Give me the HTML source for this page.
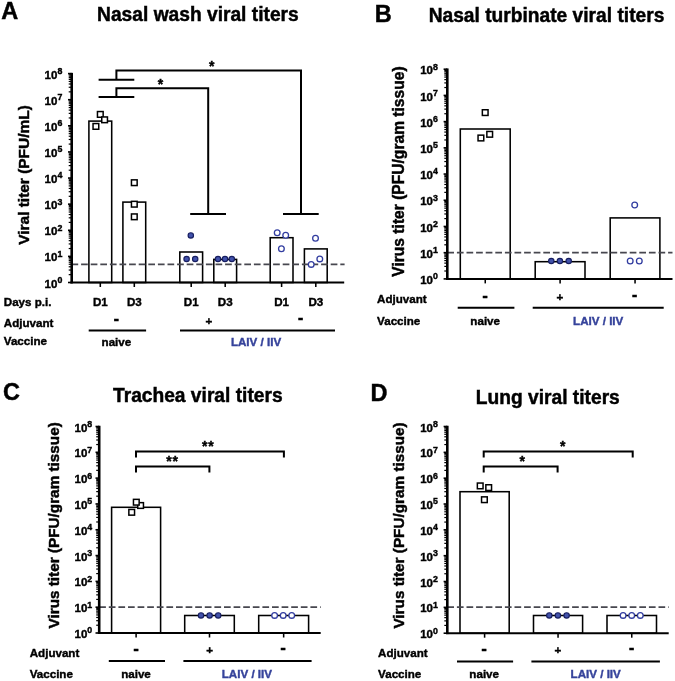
<!DOCTYPE html>
<html lang="en">
<head>
<meta charset="utf-8">
<title>Viral titers figure</title>
<style>
html,body{margin:0;padding:0;background:#fff;}
body{width:675px;height:681px;overflow:hidden;font-family:"Liberation Sans", Arial, Helvetica, sans-serif;}
svg{display:block;}
</style>
</head>
<body>
<svg width="675" height="681" viewBox="0 0 675 681" font-family='&quot;Liberation Sans&quot;, Arial, Helvetica, sans-serif' font-weight="bold">
<rect width="675" height="681" fill="#fff"/>
<text transform="translate(1.30,19.00) scale(1,1.04)" font-size="23.5" text-anchor="start" fill="#000" stroke="#000" stroke-width="0.45" >A</text>
<text transform="translate(197.90,21.00) scale(1,1.04)" font-size="19.2" text-anchor="middle" fill="#000" stroke="#000" stroke-width="0.45" >Nasal wash viral titers</text>
<text transform="translate(28.60,175.00) rotate(-90)" font-size="15.45" text-anchor="middle" stroke="#000" stroke-width="0.45">Viral titer (PFU/mL)</text>
<rect x="88.90" y="121.10" width="22.80" height="161.40" fill="#fff" stroke="#000" stroke-width="1.55"/>
<rect x="122.90" y="202.10" width="22.80" height="80.40" fill="#fff" stroke="#000" stroke-width="1.55"/>
<rect x="179.80" y="252.00" width="22.80" height="30.50" fill="#fff" stroke="#000" stroke-width="1.55"/>
<rect x="213.80" y="259.40" width="22.80" height="23.10" fill="#fff" stroke="#000" stroke-width="1.55"/>
<rect x="270.20" y="237.70" width="22.80" height="44.80" fill="#fff" stroke="#000" stroke-width="1.55"/>
<rect x="304.40" y="248.90" width="22.80" height="33.60" fill="#fff" stroke="#000" stroke-width="1.55"/>
<line x1="71.50" y1="264.40" x2="344.60" y2="264.40" stroke="#47474f" stroke-width="1.75" stroke-dasharray="6.7 2.9"/>
<line x1="70.40" y1="282.50" x2="344.20" y2="282.50" stroke="#000" stroke-width="1.95" />
<line x1="71.70" y1="72.85" x2="71.70" y2="283.40" stroke="#000" stroke-width="2.6" />
<line x1="68.00" y1="282.50" x2="71.70" y2="282.50" stroke="#000" stroke-width="1.6" />
<text transform="translate(62.30,287.60)" font-size="11.5" text-anchor="end" stroke="#000" stroke-width="0.4">10<tspan font-size="8.8" dy="-4.7">0</tspan></text>
<line x1="68.70" y1="274.64" x2="71.70" y2="274.64" stroke="#000" stroke-width="1.2" />
<line x1="68.70" y1="270.04" x2="71.70" y2="270.04" stroke="#000" stroke-width="1.2" />
<line x1="68.70" y1="266.78" x2="71.70" y2="266.78" stroke="#000" stroke-width="1.2" />
<line x1="68.70" y1="264.25" x2="71.70" y2="264.25" stroke="#000" stroke-width="1.2" />
<line x1="68.70" y1="262.18" x2="71.70" y2="262.18" stroke="#000" stroke-width="1.2" />
<line x1="68.70" y1="260.43" x2="71.70" y2="260.43" stroke="#000" stroke-width="1.2" />
<line x1="68.70" y1="258.92" x2="71.70" y2="258.92" stroke="#000" stroke-width="1.2" />
<line x1="68.70" y1="257.58" x2="71.70" y2="257.58" stroke="#000" stroke-width="1.2" />
<line x1="68.00" y1="256.39" x2="71.70" y2="256.39" stroke="#000" stroke-width="1.6" />
<text transform="translate(62.30,261.49)" font-size="11.5" text-anchor="end" stroke="#000" stroke-width="0.4">10<tspan font-size="8.8" dy="-4.7">1</tspan></text>
<line x1="68.70" y1="248.53" x2="71.70" y2="248.53" stroke="#000" stroke-width="1.2" />
<line x1="68.70" y1="243.93" x2="71.70" y2="243.93" stroke="#000" stroke-width="1.2" />
<line x1="68.70" y1="240.67" x2="71.70" y2="240.67" stroke="#000" stroke-width="1.2" />
<line x1="68.70" y1="238.14" x2="71.70" y2="238.14" stroke="#000" stroke-width="1.2" />
<line x1="68.70" y1="236.07" x2="71.70" y2="236.07" stroke="#000" stroke-width="1.2" />
<line x1="68.70" y1="234.32" x2="71.70" y2="234.32" stroke="#000" stroke-width="1.2" />
<line x1="68.70" y1="232.81" x2="71.70" y2="232.81" stroke="#000" stroke-width="1.2" />
<line x1="68.70" y1="231.47" x2="71.70" y2="231.47" stroke="#000" stroke-width="1.2" />
<line x1="68.00" y1="230.28" x2="71.70" y2="230.28" stroke="#000" stroke-width="1.6" />
<text transform="translate(62.30,235.38)" font-size="11.5" text-anchor="end" stroke="#000" stroke-width="0.4">10<tspan font-size="8.8" dy="-4.7">2</tspan></text>
<line x1="68.70" y1="222.41" x2="71.70" y2="222.41" stroke="#000" stroke-width="1.2" />
<line x1="68.70" y1="217.82" x2="71.70" y2="217.82" stroke="#000" stroke-width="1.2" />
<line x1="68.70" y1="214.55" x2="71.70" y2="214.55" stroke="#000" stroke-width="1.2" />
<line x1="68.70" y1="212.02" x2="71.70" y2="212.02" stroke="#000" stroke-width="1.2" />
<line x1="68.70" y1="209.96" x2="71.70" y2="209.96" stroke="#000" stroke-width="1.2" />
<line x1="68.70" y1="208.21" x2="71.70" y2="208.21" stroke="#000" stroke-width="1.2" />
<line x1="68.70" y1="206.69" x2="71.70" y2="206.69" stroke="#000" stroke-width="1.2" />
<line x1="68.70" y1="205.36" x2="71.70" y2="205.36" stroke="#000" stroke-width="1.2" />
<line x1="68.00" y1="204.16" x2="71.70" y2="204.16" stroke="#000" stroke-width="1.6" />
<text transform="translate(62.30,209.26)" font-size="11.5" text-anchor="end" stroke="#000" stroke-width="0.4">10<tspan font-size="8.8" dy="-4.7">3</tspan></text>
<line x1="68.70" y1="196.30" x2="71.70" y2="196.30" stroke="#000" stroke-width="1.2" />
<line x1="68.70" y1="191.70" x2="71.70" y2="191.70" stroke="#000" stroke-width="1.2" />
<line x1="68.70" y1="188.44" x2="71.70" y2="188.44" stroke="#000" stroke-width="1.2" />
<line x1="68.70" y1="185.91" x2="71.70" y2="185.91" stroke="#000" stroke-width="1.2" />
<line x1="68.70" y1="183.84" x2="71.70" y2="183.84" stroke="#000" stroke-width="1.2" />
<line x1="68.70" y1="182.09" x2="71.70" y2="182.09" stroke="#000" stroke-width="1.2" />
<line x1="68.70" y1="180.58" x2="71.70" y2="180.58" stroke="#000" stroke-width="1.2" />
<line x1="68.70" y1="179.24" x2="71.70" y2="179.24" stroke="#000" stroke-width="1.2" />
<line x1="68.00" y1="178.05" x2="71.70" y2="178.05" stroke="#000" stroke-width="1.6" />
<text transform="translate(62.30,183.15)" font-size="11.5" text-anchor="end" stroke="#000" stroke-width="0.4">10<tspan font-size="8.8" dy="-4.7">4</tspan></text>
<line x1="68.70" y1="170.19" x2="71.70" y2="170.19" stroke="#000" stroke-width="1.2" />
<line x1="68.70" y1="165.59" x2="71.70" y2="165.59" stroke="#000" stroke-width="1.2" />
<line x1="68.70" y1="162.33" x2="71.70" y2="162.33" stroke="#000" stroke-width="1.2" />
<line x1="68.70" y1="159.80" x2="71.70" y2="159.80" stroke="#000" stroke-width="1.2" />
<line x1="68.70" y1="157.73" x2="71.70" y2="157.73" stroke="#000" stroke-width="1.2" />
<line x1="68.70" y1="155.98" x2="71.70" y2="155.98" stroke="#000" stroke-width="1.2" />
<line x1="68.70" y1="154.47" x2="71.70" y2="154.47" stroke="#000" stroke-width="1.2" />
<line x1="68.70" y1="153.13" x2="71.70" y2="153.13" stroke="#000" stroke-width="1.2" />
<line x1="68.00" y1="151.94" x2="71.70" y2="151.94" stroke="#000" stroke-width="1.6" />
<text transform="translate(62.30,157.04)" font-size="11.5" text-anchor="end" stroke="#000" stroke-width="0.4">10<tspan font-size="8.8" dy="-4.7">5</tspan></text>
<line x1="68.70" y1="144.08" x2="71.70" y2="144.08" stroke="#000" stroke-width="1.2" />
<line x1="68.70" y1="139.48" x2="71.70" y2="139.48" stroke="#000" stroke-width="1.2" />
<line x1="68.70" y1="136.22" x2="71.70" y2="136.22" stroke="#000" stroke-width="1.2" />
<line x1="68.70" y1="133.69" x2="71.70" y2="133.69" stroke="#000" stroke-width="1.2" />
<line x1="68.70" y1="131.62" x2="71.70" y2="131.62" stroke="#000" stroke-width="1.2" />
<line x1="68.70" y1="129.87" x2="71.70" y2="129.87" stroke="#000" stroke-width="1.2" />
<line x1="68.70" y1="128.36" x2="71.70" y2="128.36" stroke="#000" stroke-width="1.2" />
<line x1="68.70" y1="127.02" x2="71.70" y2="127.02" stroke="#000" stroke-width="1.2" />
<line x1="68.00" y1="125.82" x2="71.70" y2="125.82" stroke="#000" stroke-width="1.6" />
<text transform="translate(62.30,130.92)" font-size="11.5" text-anchor="end" stroke="#000" stroke-width="0.4">10<tspan font-size="8.8" dy="-4.7">6</tspan></text>
<line x1="68.70" y1="117.96" x2="71.70" y2="117.96" stroke="#000" stroke-width="1.2" />
<line x1="68.70" y1="113.37" x2="71.70" y2="113.37" stroke="#000" stroke-width="1.2" />
<line x1="68.70" y1="110.10" x2="71.70" y2="110.10" stroke="#000" stroke-width="1.2" />
<line x1="68.70" y1="107.57" x2="71.70" y2="107.57" stroke="#000" stroke-width="1.2" />
<line x1="68.70" y1="105.51" x2="71.70" y2="105.51" stroke="#000" stroke-width="1.2" />
<line x1="68.70" y1="103.76" x2="71.70" y2="103.76" stroke="#000" stroke-width="1.2" />
<line x1="68.70" y1="102.24" x2="71.70" y2="102.24" stroke="#000" stroke-width="1.2" />
<line x1="68.70" y1="100.91" x2="71.70" y2="100.91" stroke="#000" stroke-width="1.2" />
<line x1="68.00" y1="99.71" x2="71.70" y2="99.71" stroke="#000" stroke-width="1.6" />
<text transform="translate(62.30,104.81)" font-size="11.5" text-anchor="end" stroke="#000" stroke-width="0.4">10<tspan font-size="8.8" dy="-4.7">7</tspan></text>
<line x1="68.70" y1="91.85" x2="71.70" y2="91.85" stroke="#000" stroke-width="1.2" />
<line x1="68.70" y1="87.25" x2="71.70" y2="87.25" stroke="#000" stroke-width="1.2" />
<line x1="68.70" y1="83.99" x2="71.70" y2="83.99" stroke="#000" stroke-width="1.2" />
<line x1="68.70" y1="81.46" x2="71.70" y2="81.46" stroke="#000" stroke-width="1.2" />
<line x1="68.70" y1="79.39" x2="71.70" y2="79.39" stroke="#000" stroke-width="1.2" />
<line x1="68.70" y1="77.64" x2="71.70" y2="77.64" stroke="#000" stroke-width="1.2" />
<line x1="68.70" y1="76.13" x2="71.70" y2="76.13" stroke="#000" stroke-width="1.2" />
<line x1="68.70" y1="74.79" x2="71.70" y2="74.79" stroke="#000" stroke-width="1.2" />
<line x1="68.00" y1="73.60" x2="71.70" y2="73.60" stroke="#000" stroke-width="1.6" />
<text transform="translate(62.30,78.70)" font-size="11.5" text-anchor="end" stroke="#000" stroke-width="0.4">10<tspan font-size="8.8" dy="-4.7">8</tspan></text>
<line x1="100.30" y1="282.50" x2="100.30" y2="287.00" stroke="#000" stroke-width="1.55" />
<line x1="134.30" y1="282.50" x2="134.30" y2="287.00" stroke="#000" stroke-width="1.55" />
<line x1="191.20" y1="282.50" x2="191.20" y2="287.00" stroke="#000" stroke-width="1.55" />
<line x1="225.20" y1="282.50" x2="225.20" y2="287.00" stroke="#000" stroke-width="1.55" />
<line x1="281.60" y1="282.50" x2="281.60" y2="287.00" stroke="#000" stroke-width="1.55" />
<line x1="315.80" y1="282.50" x2="315.80" y2="287.00" stroke="#000" stroke-width="1.55" />
<rect x="97.45" y="111.55" width="5.7" height="5.7" fill="#fff" stroke="#000" stroke-width="1.5"/>
<rect x="101.75" y="116.95" width="5.7" height="5.7" fill="#fff" stroke="#000" stroke-width="1.5"/>
<rect x="93.05" y="123.55" width="5.7" height="5.7" fill="#fff" stroke="#000" stroke-width="1.5"/>
<rect x="131.45" y="179.85" width="5.7" height="5.7" fill="#fff" stroke="#000" stroke-width="1.5"/>
<rect x="131.45" y="201.35" width="5.7" height="5.7" fill="#fff" stroke="#000" stroke-width="1.5"/>
<rect x="131.45" y="213.95" width="5.7" height="5.7" fill="#fff" stroke="#000" stroke-width="1.5"/>
<circle cx="190.80" cy="235.40" r="2.7" fill="#4252ab" stroke="#171e60" stroke-width="1.15"/>
<circle cx="186.60" cy="259.00" r="2.7" fill="#4252ab" stroke="#171e60" stroke-width="1.15"/>
<circle cx="195.20" cy="259.00" r="2.7" fill="#4252ab" stroke="#171e60" stroke-width="1.15"/>
<circle cx="218.00" cy="259.00" r="2.7" fill="#4252ab" stroke="#171e60" stroke-width="1.15"/>
<circle cx="225.00" cy="259.00" r="2.7" fill="#4252ab" stroke="#171e60" stroke-width="1.15"/>
<circle cx="231.80" cy="259.00" r="2.7" fill="#4252ab" stroke="#171e60" stroke-width="1.15"/>
<circle cx="277.20" cy="232.80" r="2.85" fill="#fff" stroke="#323da0" stroke-width="1.3"/>
<circle cx="285.70" cy="235.20" r="2.85" fill="#fff" stroke="#323da0" stroke-width="1.3"/>
<circle cx="281.40" cy="248.70" r="2.85" fill="#fff" stroke="#323da0" stroke-width="1.3"/>
<circle cx="315.50" cy="238.30" r="2.85" fill="#fff" stroke="#323da0" stroke-width="1.3"/>
<circle cx="319.80" cy="258.90" r="2.85" fill="#fff" stroke="#323da0" stroke-width="1.3"/>
<circle cx="311.20" cy="264.40" r="2.85" fill="#fff" stroke="#323da0" stroke-width="1.3"/>
<path d="M98.6 79.7 H134.3 M116.4 79.7 V70.4 H301 V214.0 M283 214.0 H318.7" fill="none" stroke="#000" stroke-width="2.0" stroke-linejoin="miter" stroke-linecap="butt"/>
<path d="M98.6 97.1 H134.3 M116.4 97.1 V88.2 H208.2 V214.0 M190.2 214.0 H226" fill="none" stroke="#000" stroke-width="2.0" stroke-linejoin="miter" stroke-linecap="butt"/>
<text transform="translate(211.60,71.10) scale(1,1.0)" font-size="14" text-anchor="middle" fill="#000" stroke="#000" stroke-width="0.4" >*</text>
<text transform="translate(160.40,88.70) scale(1,1.0)" font-size="14" text-anchor="middle" fill="#000" stroke="#000" stroke-width="0.4" >*</text>
<text transform="translate(3.80,306.20) scale(1,1.0)" font-size="11.6" text-anchor="start" fill="#000" stroke="#000" stroke-width="0.4" >Days p.i.</text>
<text transform="translate(3.80,326.80) scale(1,1.0)" font-size="11.6" text-anchor="start" fill="#000" stroke="#000" stroke-width="0.4" >Adjuvant</text>
<text transform="translate(3.80,345.30) scale(1,1.0)" font-size="11.6" text-anchor="start" fill="#000" stroke="#000" stroke-width="0.4" >Vaccine</text>
<text transform="translate(100.30,306.40) scale(1,1.0)" font-size="11.6" text-anchor="middle" fill="#000" stroke="#000" stroke-width="0.4" >D1</text>
<text transform="translate(134.30,306.40) scale(1,1.0)" font-size="11.6" text-anchor="middle" fill="#000" stroke="#000" stroke-width="0.4" >D3</text>
<text transform="translate(191.20,306.40) scale(1,1.0)" font-size="11.6" text-anchor="middle" fill="#000" stroke="#000" stroke-width="0.4" >D1</text>
<text transform="translate(225.20,306.40) scale(1,1.0)" font-size="11.6" text-anchor="middle" fill="#000" stroke="#000" stroke-width="0.4" >D3</text>
<text transform="translate(281.60,306.40) scale(1,1.0)" font-size="11.6" text-anchor="middle" fill="#000" stroke="#000" stroke-width="0.4" >D1</text>
<text transform="translate(315.80,306.40) scale(1,1.0)" font-size="11.6" text-anchor="middle" fill="#000" stroke="#000" stroke-width="0.4" >D3</text>
<text transform="translate(116.40,323.90)" font-size="17" text-anchor="middle" stroke="#000" stroke-width="0.3">-</text>
<text transform="translate(209.00,325.10) scale(1,1.0)" font-size="11.6" text-anchor="middle" fill="#000" stroke="#000" stroke-width="0.4" >+</text>
<text transform="translate(300.50,322.90)" font-size="17" text-anchor="middle" stroke="#000" stroke-width="0.3">-</text>
<line x1="88.70" y1="330.40" x2="146.10" y2="330.40" stroke="#000" stroke-width="2.0" />
<line x1="180.00" y1="330.40" x2="335.00" y2="330.40" stroke="#000" stroke-width="2.0" />
<text transform="translate(116.40,345.60) scale(1,1.0)" font-size="11.6" text-anchor="middle" fill="#000" stroke="#000" stroke-width="0.4" >naive</text>
<text transform="translate(256.00,346.10) scale(1,1.0)" font-size="11.6" text-anchor="middle" fill="#36439b" stroke="#36439b" stroke-width="0.4" >LAIV / IIV</text>
<text transform="translate(374.70,22.10) scale(1,1.04)" font-size="23.5" text-anchor="start" fill="#000" stroke="#000" stroke-width="0.45" >B</text>
<text transform="translate(546.50,22.20) scale(1,1.04)" font-size="19.2" text-anchor="middle" fill="#000" stroke="#000" stroke-width="0.45" >Nasal turbinate viral titers</text>
<text transform="translate(403.80,171.55) rotate(-90)" font-size="15.6" text-anchor="middle" stroke="#000" stroke-width="0.45">Virus titer (PFU/gram tissue)</text>
<rect x="460.30" y="129.00" width="49.90" height="149.90" fill="#fff" stroke="#000" stroke-width="1.55"/>
<rect x="535.20" y="261.70" width="49.80" height="17.20" fill="#fff" stroke="#000" stroke-width="1.55"/>
<rect x="610.20" y="217.90" width="49.70" height="61.00" fill="#fff" stroke="#000" stroke-width="1.55"/>
<line x1="447.30" y1="252.60" x2="672.50" y2="252.60" stroke="#47474f" stroke-width="1.75" stroke-dasharray="6.7 2.9"/>
<line x1="446.00" y1="278.90" x2="672.50" y2="278.90" stroke="#000" stroke-width="1.95" />
<line x1="447.30" y1="68.45" x2="447.30" y2="279.80" stroke="#000" stroke-width="2.6" />
<line x1="443.60" y1="278.90" x2="447.30" y2="278.90" stroke="#000" stroke-width="1.6" />
<text transform="translate(437.90,284.00)" font-size="11.5" text-anchor="end" stroke="#000" stroke-width="0.4">10<tspan font-size="8.8" dy="-4.7">0</tspan></text>
<line x1="444.30" y1="271.01" x2="447.30" y2="271.01" stroke="#000" stroke-width="1.2" />
<line x1="444.30" y1="266.39" x2="447.30" y2="266.39" stroke="#000" stroke-width="1.2" />
<line x1="444.30" y1="263.12" x2="447.30" y2="263.12" stroke="#000" stroke-width="1.2" />
<line x1="444.30" y1="260.58" x2="447.30" y2="260.58" stroke="#000" stroke-width="1.2" />
<line x1="444.30" y1="258.50" x2="447.30" y2="258.50" stroke="#000" stroke-width="1.2" />
<line x1="444.30" y1="256.75" x2="447.30" y2="256.75" stroke="#000" stroke-width="1.2" />
<line x1="444.30" y1="255.23" x2="447.30" y2="255.23" stroke="#000" stroke-width="1.2" />
<line x1="444.30" y1="253.89" x2="447.30" y2="253.89" stroke="#000" stroke-width="1.2" />
<line x1="443.60" y1="252.69" x2="447.30" y2="252.69" stroke="#000" stroke-width="1.6" />
<text transform="translate(437.90,257.79)" font-size="11.5" text-anchor="end" stroke="#000" stroke-width="0.4">10<tspan font-size="8.8" dy="-4.7">1</tspan></text>
<line x1="444.30" y1="244.80" x2="447.30" y2="244.80" stroke="#000" stroke-width="1.2" />
<line x1="444.30" y1="240.18" x2="447.30" y2="240.18" stroke="#000" stroke-width="1.2" />
<line x1="444.30" y1="236.91" x2="447.30" y2="236.91" stroke="#000" stroke-width="1.2" />
<line x1="444.30" y1="234.37" x2="447.30" y2="234.37" stroke="#000" stroke-width="1.2" />
<line x1="444.30" y1="232.29" x2="447.30" y2="232.29" stroke="#000" stroke-width="1.2" />
<line x1="444.30" y1="230.54" x2="447.30" y2="230.54" stroke="#000" stroke-width="1.2" />
<line x1="444.30" y1="229.02" x2="447.30" y2="229.02" stroke="#000" stroke-width="1.2" />
<line x1="444.30" y1="227.67" x2="447.30" y2="227.67" stroke="#000" stroke-width="1.2" />
<line x1="443.60" y1="226.47" x2="447.30" y2="226.47" stroke="#000" stroke-width="1.6" />
<text transform="translate(437.90,231.57)" font-size="11.5" text-anchor="end" stroke="#000" stroke-width="0.4">10<tspan font-size="8.8" dy="-4.7">2</tspan></text>
<line x1="444.30" y1="218.58" x2="447.30" y2="218.58" stroke="#000" stroke-width="1.2" />
<line x1="444.30" y1="213.97" x2="447.30" y2="213.97" stroke="#000" stroke-width="1.2" />
<line x1="444.30" y1="210.69" x2="447.30" y2="210.69" stroke="#000" stroke-width="1.2" />
<line x1="444.30" y1="208.15" x2="447.30" y2="208.15" stroke="#000" stroke-width="1.2" />
<line x1="444.30" y1="206.08" x2="447.30" y2="206.08" stroke="#000" stroke-width="1.2" />
<line x1="444.30" y1="204.32" x2="447.30" y2="204.32" stroke="#000" stroke-width="1.2" />
<line x1="444.30" y1="202.80" x2="447.30" y2="202.80" stroke="#000" stroke-width="1.2" />
<line x1="444.30" y1="201.46" x2="447.30" y2="201.46" stroke="#000" stroke-width="1.2" />
<line x1="443.60" y1="200.26" x2="447.30" y2="200.26" stroke="#000" stroke-width="1.6" />
<text transform="translate(437.90,205.36)" font-size="11.5" text-anchor="end" stroke="#000" stroke-width="0.4">10<tspan font-size="8.8" dy="-4.7">3</tspan></text>
<line x1="444.30" y1="192.37" x2="447.30" y2="192.37" stroke="#000" stroke-width="1.2" />
<line x1="444.30" y1="187.76" x2="447.30" y2="187.76" stroke="#000" stroke-width="1.2" />
<line x1="444.30" y1="184.48" x2="447.30" y2="184.48" stroke="#000" stroke-width="1.2" />
<line x1="444.30" y1="181.94" x2="447.30" y2="181.94" stroke="#000" stroke-width="1.2" />
<line x1="444.30" y1="179.87" x2="447.30" y2="179.87" stroke="#000" stroke-width="1.2" />
<line x1="444.30" y1="178.11" x2="447.30" y2="178.11" stroke="#000" stroke-width="1.2" />
<line x1="444.30" y1="176.59" x2="447.30" y2="176.59" stroke="#000" stroke-width="1.2" />
<line x1="444.30" y1="175.25" x2="447.30" y2="175.25" stroke="#000" stroke-width="1.2" />
<line x1="443.60" y1="174.05" x2="447.30" y2="174.05" stroke="#000" stroke-width="1.6" />
<text transform="translate(437.90,179.15)" font-size="11.5" text-anchor="end" stroke="#000" stroke-width="0.4">10<tspan font-size="8.8" dy="-4.7">4</tspan></text>
<line x1="444.30" y1="166.16" x2="447.30" y2="166.16" stroke="#000" stroke-width="1.2" />
<line x1="444.30" y1="161.54" x2="447.30" y2="161.54" stroke="#000" stroke-width="1.2" />
<line x1="444.30" y1="158.27" x2="447.30" y2="158.27" stroke="#000" stroke-width="1.2" />
<line x1="444.30" y1="155.73" x2="447.30" y2="155.73" stroke="#000" stroke-width="1.2" />
<line x1="444.30" y1="153.65" x2="447.30" y2="153.65" stroke="#000" stroke-width="1.2" />
<line x1="444.30" y1="151.90" x2="447.30" y2="151.90" stroke="#000" stroke-width="1.2" />
<line x1="444.30" y1="150.38" x2="447.30" y2="150.38" stroke="#000" stroke-width="1.2" />
<line x1="444.30" y1="149.04" x2="447.30" y2="149.04" stroke="#000" stroke-width="1.2" />
<line x1="443.60" y1="147.84" x2="447.30" y2="147.84" stroke="#000" stroke-width="1.6" />
<text transform="translate(437.90,152.94)" font-size="11.5" text-anchor="end" stroke="#000" stroke-width="0.4">10<tspan font-size="8.8" dy="-4.7">5</tspan></text>
<line x1="444.30" y1="139.95" x2="447.30" y2="139.95" stroke="#000" stroke-width="1.2" />
<line x1="444.30" y1="135.33" x2="447.30" y2="135.33" stroke="#000" stroke-width="1.2" />
<line x1="444.30" y1="132.06" x2="447.30" y2="132.06" stroke="#000" stroke-width="1.2" />
<line x1="444.30" y1="129.52" x2="447.30" y2="129.52" stroke="#000" stroke-width="1.2" />
<line x1="444.30" y1="127.44" x2="447.30" y2="127.44" stroke="#000" stroke-width="1.2" />
<line x1="444.30" y1="125.69" x2="447.30" y2="125.69" stroke="#000" stroke-width="1.2" />
<line x1="444.30" y1="124.17" x2="447.30" y2="124.17" stroke="#000" stroke-width="1.2" />
<line x1="444.30" y1="122.82" x2="447.30" y2="122.82" stroke="#000" stroke-width="1.2" />
<line x1="443.60" y1="121.62" x2="447.30" y2="121.62" stroke="#000" stroke-width="1.6" />
<text transform="translate(437.90,126.72)" font-size="11.5" text-anchor="end" stroke="#000" stroke-width="0.4">10<tspan font-size="8.8" dy="-4.7">6</tspan></text>
<line x1="444.30" y1="113.73" x2="447.30" y2="113.73" stroke="#000" stroke-width="1.2" />
<line x1="444.30" y1="109.12" x2="447.30" y2="109.12" stroke="#000" stroke-width="1.2" />
<line x1="444.30" y1="105.84" x2="447.30" y2="105.84" stroke="#000" stroke-width="1.2" />
<line x1="444.30" y1="103.30" x2="447.30" y2="103.30" stroke="#000" stroke-width="1.2" />
<line x1="444.30" y1="101.23" x2="447.30" y2="101.23" stroke="#000" stroke-width="1.2" />
<line x1="444.30" y1="99.47" x2="447.30" y2="99.47" stroke="#000" stroke-width="1.2" />
<line x1="444.30" y1="97.95" x2="447.30" y2="97.95" stroke="#000" stroke-width="1.2" />
<line x1="444.30" y1="96.61" x2="447.30" y2="96.61" stroke="#000" stroke-width="1.2" />
<line x1="443.60" y1="95.41" x2="447.30" y2="95.41" stroke="#000" stroke-width="1.6" />
<text transform="translate(437.90,100.51)" font-size="11.5" text-anchor="end" stroke="#000" stroke-width="0.4">10<tspan font-size="8.8" dy="-4.7">7</tspan></text>
<line x1="444.30" y1="87.52" x2="447.30" y2="87.52" stroke="#000" stroke-width="1.2" />
<line x1="444.30" y1="82.91" x2="447.30" y2="82.91" stroke="#000" stroke-width="1.2" />
<line x1="444.30" y1="79.63" x2="447.30" y2="79.63" stroke="#000" stroke-width="1.2" />
<line x1="444.30" y1="77.09" x2="447.30" y2="77.09" stroke="#000" stroke-width="1.2" />
<line x1="444.30" y1="75.02" x2="447.30" y2="75.02" stroke="#000" stroke-width="1.2" />
<line x1="444.30" y1="73.26" x2="447.30" y2="73.26" stroke="#000" stroke-width="1.2" />
<line x1="444.30" y1="71.74" x2="447.30" y2="71.74" stroke="#000" stroke-width="1.2" />
<line x1="444.30" y1="70.40" x2="447.30" y2="70.40" stroke="#000" stroke-width="1.2" />
<line x1="443.60" y1="69.20" x2="447.30" y2="69.20" stroke="#000" stroke-width="1.6" />
<text transform="translate(437.90,74.30)" font-size="11.5" text-anchor="end" stroke="#000" stroke-width="0.4">10<tspan font-size="8.8" dy="-4.7">8</tspan></text>
<line x1="485.25" y1="278.90" x2="485.25" y2="283.40" stroke="#000" stroke-width="1.55" />
<line x1="560.10" y1="278.90" x2="560.10" y2="283.40" stroke="#000" stroke-width="1.55" />
<line x1="635.05" y1="278.90" x2="635.05" y2="283.40" stroke="#000" stroke-width="1.55" />
<rect x="482.35" y="109.75" width="5.7" height="5.7" fill="#fff" stroke="#000" stroke-width="1.5"/>
<rect x="486.85" y="131.45" width="5.7" height="5.7" fill="#fff" stroke="#000" stroke-width="1.5"/>
<rect x="478.05" y="135.15" width="5.7" height="5.7" fill="#fff" stroke="#000" stroke-width="1.5"/>
<circle cx="551.30" cy="261.00" r="2.7" fill="#4252ab" stroke="#171e60" stroke-width="1.15"/>
<circle cx="559.90" cy="261.00" r="2.7" fill="#4252ab" stroke="#171e60" stroke-width="1.15"/>
<circle cx="568.70" cy="261.00" r="2.7" fill="#4252ab" stroke="#171e60" stroke-width="1.15"/>
<circle cx="634.70" cy="205.00" r="2.85" fill="#fff" stroke="#323da0" stroke-width="1.3"/>
<circle cx="630.20" cy="261.00" r="2.85" fill="#fff" stroke="#323da0" stroke-width="1.3"/>
<circle cx="639.30" cy="261.00" r="2.85" fill="#fff" stroke="#323da0" stroke-width="1.3"/>
<text transform="translate(377.10,303.00) scale(1,1.0)" font-size="11.6" text-anchor="start" fill="#000" stroke="#000" stroke-width="0.4" >Adjuvant</text>
<text transform="translate(377.10,325.10) scale(1,1.0)" font-size="11.6" text-anchor="start" fill="#000" stroke="#000" stroke-width="0.4" >Vaccine</text>
<line x1="457.70" y1="307.70" x2="514.40" y2="307.70" stroke="#000" stroke-width="2.0" />
<line x1="532.70" y1="307.70" x2="663.70" y2="307.70" stroke="#000" stroke-width="2.0" />
<text transform="translate(485.20,300.90)" font-size="17" text-anchor="middle" stroke="#000" stroke-width="0.3">-</text>
<text transform="translate(559.90,301.10) scale(1,1.0)" font-size="11.6" text-anchor="middle" fill="#000" stroke="#000" stroke-width="0.4" >+</text>
<text transform="translate(634.70,299.80)" font-size="17" text-anchor="middle" stroke="#000" stroke-width="0.3">-</text>
<text transform="translate(485.20,325.10) scale(1,1.0)" font-size="11.6" text-anchor="middle" fill="#000" stroke="#000" stroke-width="0.4" >naive</text>
<text transform="translate(598.20,325.10) scale(1,1.0)" font-size="11.6" text-anchor="middle" fill="#36439b" stroke="#36439b" stroke-width="0.4" >LAIV / IIV</text>
<text transform="translate(3.00,400.00) scale(1,1.04)" font-size="23.5" text-anchor="start" fill="#000" stroke="#000" stroke-width="0.45" >C</text>
<text transform="translate(197.80,402.40) scale(1,1.04)" font-size="19.2" text-anchor="middle" fill="#000" stroke="#000" stroke-width="0.45" >Trachea viral titers</text>
<text transform="translate(58.90,525.35) rotate(-90)" font-size="15.3" text-anchor="middle" stroke="#000" stroke-width="0.45">Virus titer (PFU/gram tissue)</text>
<rect x="111.60" y="507.30" width="49.00" height="125.70" fill="#fff" stroke="#000" stroke-width="1.55"/>
<rect x="184.70" y="615.50" width="49.60" height="17.50" fill="#fff" stroke="#000" stroke-width="1.55"/>
<rect x="258.70" y="615.50" width="49.90" height="17.50" fill="#fff" stroke="#000" stroke-width="1.55"/>
<line x1="99.20" y1="607.00" x2="320.70" y2="607.00" stroke="#47474f" stroke-width="1.75" stroke-dasharray="6.7 2.9"/>
<line x1="97.90" y1="633.00" x2="320.70" y2="633.00" stroke="#000" stroke-width="1.95" />
<line x1="99.20" y1="425.75" x2="99.20" y2="633.90" stroke="#000" stroke-width="2.6" />
<line x1="95.50" y1="633.00" x2="99.20" y2="633.00" stroke="#000" stroke-width="1.6" />
<text transform="translate(92.20,638.10)" font-size="11.5" text-anchor="end" stroke="#000" stroke-width="0.4">10<tspan font-size="8.8" dy="-4.7">0</tspan></text>
<line x1="96.20" y1="625.23" x2="99.20" y2="625.23" stroke="#000" stroke-width="1.2" />
<line x1="96.20" y1="620.68" x2="99.20" y2="620.68" stroke="#000" stroke-width="1.2" />
<line x1="96.20" y1="617.46" x2="99.20" y2="617.46" stroke="#000" stroke-width="1.2" />
<line x1="96.20" y1="614.96" x2="99.20" y2="614.96" stroke="#000" stroke-width="1.2" />
<line x1="96.20" y1="612.91" x2="99.20" y2="612.91" stroke="#000" stroke-width="1.2" />
<line x1="96.20" y1="611.19" x2="99.20" y2="611.19" stroke="#000" stroke-width="1.2" />
<line x1="96.20" y1="609.69" x2="99.20" y2="609.69" stroke="#000" stroke-width="1.2" />
<line x1="96.20" y1="608.37" x2="99.20" y2="608.37" stroke="#000" stroke-width="1.2" />
<line x1="95.50" y1="607.19" x2="99.20" y2="607.19" stroke="#000" stroke-width="1.6" />
<text transform="translate(92.20,612.29)" font-size="11.5" text-anchor="end" stroke="#000" stroke-width="0.4">10<tspan font-size="8.8" dy="-4.7">1</tspan></text>
<line x1="96.20" y1="599.42" x2="99.20" y2="599.42" stroke="#000" stroke-width="1.2" />
<line x1="96.20" y1="594.87" x2="99.20" y2="594.87" stroke="#000" stroke-width="1.2" />
<line x1="96.20" y1="591.65" x2="99.20" y2="591.65" stroke="#000" stroke-width="1.2" />
<line x1="96.20" y1="589.15" x2="99.20" y2="589.15" stroke="#000" stroke-width="1.2" />
<line x1="96.20" y1="587.10" x2="99.20" y2="587.10" stroke="#000" stroke-width="1.2" />
<line x1="96.20" y1="585.37" x2="99.20" y2="585.37" stroke="#000" stroke-width="1.2" />
<line x1="96.20" y1="583.88" x2="99.20" y2="583.88" stroke="#000" stroke-width="1.2" />
<line x1="96.20" y1="582.56" x2="99.20" y2="582.56" stroke="#000" stroke-width="1.2" />
<line x1="95.50" y1="581.38" x2="99.20" y2="581.38" stroke="#000" stroke-width="1.6" />
<text transform="translate(92.20,586.48)" font-size="11.5" text-anchor="end" stroke="#000" stroke-width="0.4">10<tspan font-size="8.8" dy="-4.7">2</tspan></text>
<line x1="96.20" y1="573.60" x2="99.20" y2="573.60" stroke="#000" stroke-width="1.2" />
<line x1="96.20" y1="569.06" x2="99.20" y2="569.06" stroke="#000" stroke-width="1.2" />
<line x1="96.20" y1="565.83" x2="99.20" y2="565.83" stroke="#000" stroke-width="1.2" />
<line x1="96.20" y1="563.33" x2="99.20" y2="563.33" stroke="#000" stroke-width="1.2" />
<line x1="96.20" y1="561.29" x2="99.20" y2="561.29" stroke="#000" stroke-width="1.2" />
<line x1="96.20" y1="559.56" x2="99.20" y2="559.56" stroke="#000" stroke-width="1.2" />
<line x1="96.20" y1="558.06" x2="99.20" y2="558.06" stroke="#000" stroke-width="1.2" />
<line x1="96.20" y1="556.74" x2="99.20" y2="556.74" stroke="#000" stroke-width="1.2" />
<line x1="95.50" y1="555.56" x2="99.20" y2="555.56" stroke="#000" stroke-width="1.6" />
<text transform="translate(92.20,560.66)" font-size="11.5" text-anchor="end" stroke="#000" stroke-width="0.4">10<tspan font-size="8.8" dy="-4.7">3</tspan></text>
<line x1="96.20" y1="547.79" x2="99.20" y2="547.79" stroke="#000" stroke-width="1.2" />
<line x1="96.20" y1="543.25" x2="99.20" y2="543.25" stroke="#000" stroke-width="1.2" />
<line x1="96.20" y1="540.02" x2="99.20" y2="540.02" stroke="#000" stroke-width="1.2" />
<line x1="96.20" y1="537.52" x2="99.20" y2="537.52" stroke="#000" stroke-width="1.2" />
<line x1="96.20" y1="535.48" x2="99.20" y2="535.48" stroke="#000" stroke-width="1.2" />
<line x1="96.20" y1="533.75" x2="99.20" y2="533.75" stroke="#000" stroke-width="1.2" />
<line x1="96.20" y1="532.25" x2="99.20" y2="532.25" stroke="#000" stroke-width="1.2" />
<line x1="96.20" y1="530.93" x2="99.20" y2="530.93" stroke="#000" stroke-width="1.2" />
<line x1="95.50" y1="529.75" x2="99.20" y2="529.75" stroke="#000" stroke-width="1.6" />
<text transform="translate(92.20,534.85)" font-size="11.5" text-anchor="end" stroke="#000" stroke-width="0.4">10<tspan font-size="8.8" dy="-4.7">4</tspan></text>
<line x1="96.20" y1="521.98" x2="99.20" y2="521.98" stroke="#000" stroke-width="1.2" />
<line x1="96.20" y1="517.43" x2="99.20" y2="517.43" stroke="#000" stroke-width="1.2" />
<line x1="96.20" y1="514.21" x2="99.20" y2="514.21" stroke="#000" stroke-width="1.2" />
<line x1="96.20" y1="511.71" x2="99.20" y2="511.71" stroke="#000" stroke-width="1.2" />
<line x1="96.20" y1="509.66" x2="99.20" y2="509.66" stroke="#000" stroke-width="1.2" />
<line x1="96.20" y1="507.94" x2="99.20" y2="507.94" stroke="#000" stroke-width="1.2" />
<line x1="96.20" y1="506.44" x2="99.20" y2="506.44" stroke="#000" stroke-width="1.2" />
<line x1="96.20" y1="505.12" x2="99.20" y2="505.12" stroke="#000" stroke-width="1.2" />
<line x1="95.50" y1="503.94" x2="99.20" y2="503.94" stroke="#000" stroke-width="1.6" />
<text transform="translate(92.20,509.04)" font-size="11.5" text-anchor="end" stroke="#000" stroke-width="0.4">10<tspan font-size="8.8" dy="-4.7">5</tspan></text>
<line x1="96.20" y1="496.17" x2="99.20" y2="496.17" stroke="#000" stroke-width="1.2" />
<line x1="96.20" y1="491.62" x2="99.20" y2="491.62" stroke="#000" stroke-width="1.2" />
<line x1="96.20" y1="488.40" x2="99.20" y2="488.40" stroke="#000" stroke-width="1.2" />
<line x1="96.20" y1="485.90" x2="99.20" y2="485.90" stroke="#000" stroke-width="1.2" />
<line x1="96.20" y1="483.85" x2="99.20" y2="483.85" stroke="#000" stroke-width="1.2" />
<line x1="96.20" y1="482.12" x2="99.20" y2="482.12" stroke="#000" stroke-width="1.2" />
<line x1="96.20" y1="480.63" x2="99.20" y2="480.63" stroke="#000" stroke-width="1.2" />
<line x1="96.20" y1="479.31" x2="99.20" y2="479.31" stroke="#000" stroke-width="1.2" />
<line x1="95.50" y1="478.12" x2="99.20" y2="478.12" stroke="#000" stroke-width="1.6" />
<text transform="translate(92.20,483.23)" font-size="11.5" text-anchor="end" stroke="#000" stroke-width="0.4">10<tspan font-size="8.8" dy="-4.7">6</tspan></text>
<line x1="96.20" y1="470.35" x2="99.20" y2="470.35" stroke="#000" stroke-width="1.2" />
<line x1="96.20" y1="465.81" x2="99.20" y2="465.81" stroke="#000" stroke-width="1.2" />
<line x1="96.20" y1="462.58" x2="99.20" y2="462.58" stroke="#000" stroke-width="1.2" />
<line x1="96.20" y1="460.08" x2="99.20" y2="460.08" stroke="#000" stroke-width="1.2" />
<line x1="96.20" y1="458.04" x2="99.20" y2="458.04" stroke="#000" stroke-width="1.2" />
<line x1="96.20" y1="456.31" x2="99.20" y2="456.31" stroke="#000" stroke-width="1.2" />
<line x1="96.20" y1="454.81" x2="99.20" y2="454.81" stroke="#000" stroke-width="1.2" />
<line x1="96.20" y1="453.49" x2="99.20" y2="453.49" stroke="#000" stroke-width="1.2" />
<line x1="95.50" y1="452.31" x2="99.20" y2="452.31" stroke="#000" stroke-width="1.6" />
<text transform="translate(92.20,457.41)" font-size="11.5" text-anchor="end" stroke="#000" stroke-width="0.4">10<tspan font-size="8.8" dy="-4.7">7</tspan></text>
<line x1="96.20" y1="444.54" x2="99.20" y2="444.54" stroke="#000" stroke-width="1.2" />
<line x1="96.20" y1="440.00" x2="99.20" y2="440.00" stroke="#000" stroke-width="1.2" />
<line x1="96.20" y1="436.77" x2="99.20" y2="436.77" stroke="#000" stroke-width="1.2" />
<line x1="96.20" y1="434.27" x2="99.20" y2="434.27" stroke="#000" stroke-width="1.2" />
<line x1="96.20" y1="432.23" x2="99.20" y2="432.23" stroke="#000" stroke-width="1.2" />
<line x1="96.20" y1="430.50" x2="99.20" y2="430.50" stroke="#000" stroke-width="1.2" />
<line x1="96.20" y1="429.00" x2="99.20" y2="429.00" stroke="#000" stroke-width="1.2" />
<line x1="96.20" y1="427.68" x2="99.20" y2="427.68" stroke="#000" stroke-width="1.2" />
<line x1="95.50" y1="426.50" x2="99.20" y2="426.50" stroke="#000" stroke-width="1.6" />
<text transform="translate(92.20,431.60)" font-size="11.5" text-anchor="end" stroke="#000" stroke-width="0.4">10<tspan font-size="8.8" dy="-4.7">8</tspan></text>
<line x1="136.10" y1="633.00" x2="136.10" y2="637.50" stroke="#000" stroke-width="1.55" />
<line x1="209.50" y1="633.00" x2="209.50" y2="637.50" stroke="#000" stroke-width="1.55" />
<line x1="283.65" y1="633.00" x2="283.65" y2="637.50" stroke="#000" stroke-width="1.55" />
<rect x="137.75" y="502.65" width="5.7" height="5.7" fill="#fff" stroke="#000" stroke-width="1.5"/>
<rect x="133.45" y="499.35" width="5.7" height="5.7" fill="#fff" stroke="#000" stroke-width="1.5"/>
<rect x="128.85" y="509.45" width="5.7" height="5.7" fill="#fff" stroke="#000" stroke-width="1.5"/>
<circle cx="201.00" cy="615.40" r="2.7" fill="#4252ab" stroke="#171e60" stroke-width="1.15"/>
<circle cx="209.60" cy="615.40" r="2.7" fill="#4252ab" stroke="#171e60" stroke-width="1.15"/>
<circle cx="218.20" cy="615.40" r="2.7" fill="#4252ab" stroke="#171e60" stroke-width="1.15"/>
<circle cx="274.60" cy="615.40" r="2.85" fill="#fff" stroke="#323da0" stroke-width="1.3"/>
<circle cx="283.20" cy="615.40" r="2.85" fill="#fff" stroke="#323da0" stroke-width="1.3"/>
<circle cx="291.70" cy="615.40" r="2.85" fill="#fff" stroke="#323da0" stroke-width="1.3"/>
<path d="M136 457.4 V451.5 H283.9 V457.4" fill="none" stroke="#000" stroke-width="2.0" stroke-linejoin="miter" stroke-linecap="butt"/>
<path d="M136 472.5 V466.4 H209.4 V472.5" fill="none" stroke="#000" stroke-width="2.0" stroke-linejoin="miter" stroke-linecap="butt"/>
<text transform="translate(208.30,451.20) scale(1,1.0)" font-size="14" text-anchor="middle" fill="#000" stroke="#000" stroke-width="0.4" letter-spacing="0.8">**</text>
<text transform="translate(172.50,466.20) scale(1,1.0)" font-size="14" text-anchor="middle" fill="#000" stroke="#000" stroke-width="0.4" letter-spacing="0.8">**</text>
<text transform="translate(29.70,657.10) scale(1,1.0)" font-size="11.6" text-anchor="start" fill="#000" stroke="#000" stroke-width="0.4" >Adjuvant</text>
<text transform="translate(29.70,678.00) scale(1,1.0)" font-size="11.6" text-anchor="start" fill="#000" stroke="#000" stroke-width="0.4" >Vaccine</text>
<line x1="108.80" y1="661.00" x2="165.00" y2="661.00" stroke="#000" stroke-width="2.0" />
<line x1="183.40" y1="661.00" x2="311.60" y2="661.00" stroke="#000" stroke-width="2.0" />
<text transform="translate(136.00,654.40)" font-size="17" text-anchor="middle" stroke="#000" stroke-width="0.3">-</text>
<text transform="translate(209.60,654.20) scale(1,1.0)" font-size="11.6" text-anchor="middle" fill="#000" stroke="#000" stroke-width="0.4" >+</text>
<text transform="translate(283.20,653.10)" font-size="17" text-anchor="middle" stroke="#000" stroke-width="0.3">-</text>
<text transform="translate(136.00,678.00) scale(1,1.0)" font-size="11.6" text-anchor="middle" fill="#000" stroke="#000" stroke-width="0.4" >naive</text>
<text transform="translate(246.90,678.00) scale(1,1.0)" font-size="11.6" text-anchor="middle" fill="#36439b" stroke="#36439b" stroke-width="0.4" >LAIV / IIV</text>
<text transform="translate(370.60,401.30) scale(1,1.04)" font-size="23.5" text-anchor="start" fill="#000" stroke="#000" stroke-width="0.45" >D</text>
<text transform="translate(547.80,403.50) scale(1,1.04)" font-size="19.2" text-anchor="middle" fill="#000" stroke="#000" stroke-width="0.45" >Lung viral titers</text>
<text transform="translate(404.20,525.45) rotate(-90)" font-size="15.3" text-anchor="middle" stroke="#000" stroke-width="0.45">Virus titer (PFU/gram tissue)</text>
<rect x="460.00" y="491.70" width="49.20" height="141.50" fill="#fff" stroke="#000" stroke-width="1.55"/>
<rect x="533.50" y="615.50" width="49.10" height="17.70" fill="#fff" stroke="#000" stroke-width="1.55"/>
<rect x="607.00" y="615.50" width="49.50" height="17.70" fill="#fff" stroke="#000" stroke-width="1.55"/>
<line x1="447.30" y1="607.20" x2="668.70" y2="607.20" stroke="#47474f" stroke-width="1.75" stroke-dasharray="6.7 2.9"/>
<line x1="446.00" y1="633.20" x2="668.70" y2="633.20" stroke="#000" stroke-width="1.95" />
<line x1="447.30" y1="425.75" x2="447.30" y2="634.10" stroke="#000" stroke-width="2.6" />
<line x1="443.60" y1="633.20" x2="447.30" y2="633.20" stroke="#000" stroke-width="1.6" />
<text transform="translate(437.90,638.30)" font-size="11.5" text-anchor="end" stroke="#000" stroke-width="0.4">10<tspan font-size="8.8" dy="-4.7">0</tspan></text>
<line x1="444.30" y1="625.42" x2="447.30" y2="625.42" stroke="#000" stroke-width="1.2" />
<line x1="444.30" y1="620.87" x2="447.30" y2="620.87" stroke="#000" stroke-width="1.2" />
<line x1="444.30" y1="617.64" x2="447.30" y2="617.64" stroke="#000" stroke-width="1.2" />
<line x1="444.30" y1="615.14" x2="447.30" y2="615.14" stroke="#000" stroke-width="1.2" />
<line x1="444.30" y1="613.09" x2="447.30" y2="613.09" stroke="#000" stroke-width="1.2" />
<line x1="444.30" y1="611.36" x2="447.30" y2="611.36" stroke="#000" stroke-width="1.2" />
<line x1="444.30" y1="609.87" x2="447.30" y2="609.87" stroke="#000" stroke-width="1.2" />
<line x1="444.30" y1="608.54" x2="447.30" y2="608.54" stroke="#000" stroke-width="1.2" />
<line x1="443.60" y1="607.36" x2="447.30" y2="607.36" stroke="#000" stroke-width="1.6" />
<text transform="translate(437.90,612.46)" font-size="11.5" text-anchor="end" stroke="#000" stroke-width="0.4">10<tspan font-size="8.8" dy="-4.7">1</tspan></text>
<line x1="444.30" y1="599.58" x2="447.30" y2="599.58" stroke="#000" stroke-width="1.2" />
<line x1="444.30" y1="595.03" x2="447.30" y2="595.03" stroke="#000" stroke-width="1.2" />
<line x1="444.30" y1="591.81" x2="447.30" y2="591.81" stroke="#000" stroke-width="1.2" />
<line x1="444.30" y1="589.30" x2="447.30" y2="589.30" stroke="#000" stroke-width="1.2" />
<line x1="444.30" y1="587.26" x2="447.30" y2="587.26" stroke="#000" stroke-width="1.2" />
<line x1="444.30" y1="585.53" x2="447.30" y2="585.53" stroke="#000" stroke-width="1.2" />
<line x1="444.30" y1="584.03" x2="447.30" y2="584.03" stroke="#000" stroke-width="1.2" />
<line x1="444.30" y1="582.71" x2="447.30" y2="582.71" stroke="#000" stroke-width="1.2" />
<line x1="443.60" y1="581.53" x2="447.30" y2="581.53" stroke="#000" stroke-width="1.6" />
<text transform="translate(437.90,586.63)" font-size="11.5" text-anchor="end" stroke="#000" stroke-width="0.4">10<tspan font-size="8.8" dy="-4.7">2</tspan></text>
<line x1="444.30" y1="573.75" x2="447.30" y2="573.75" stroke="#000" stroke-width="1.2" />
<line x1="444.30" y1="569.20" x2="447.30" y2="569.20" stroke="#000" stroke-width="1.2" />
<line x1="444.30" y1="565.97" x2="447.30" y2="565.97" stroke="#000" stroke-width="1.2" />
<line x1="444.30" y1="563.47" x2="447.30" y2="563.47" stroke="#000" stroke-width="1.2" />
<line x1="444.30" y1="561.42" x2="447.30" y2="561.42" stroke="#000" stroke-width="1.2" />
<line x1="444.30" y1="559.69" x2="447.30" y2="559.69" stroke="#000" stroke-width="1.2" />
<line x1="444.30" y1="558.19" x2="447.30" y2="558.19" stroke="#000" stroke-width="1.2" />
<line x1="444.30" y1="556.87" x2="447.30" y2="556.87" stroke="#000" stroke-width="1.2" />
<line x1="443.60" y1="555.69" x2="447.30" y2="555.69" stroke="#000" stroke-width="1.6" />
<text transform="translate(437.90,560.79)" font-size="11.5" text-anchor="end" stroke="#000" stroke-width="0.4">10<tspan font-size="8.8" dy="-4.7">3</tspan></text>
<line x1="444.30" y1="547.91" x2="447.30" y2="547.91" stroke="#000" stroke-width="1.2" />
<line x1="444.30" y1="543.36" x2="447.30" y2="543.36" stroke="#000" stroke-width="1.2" />
<line x1="444.30" y1="540.13" x2="447.30" y2="540.13" stroke="#000" stroke-width="1.2" />
<line x1="444.30" y1="537.63" x2="447.30" y2="537.63" stroke="#000" stroke-width="1.2" />
<line x1="444.30" y1="535.58" x2="447.30" y2="535.58" stroke="#000" stroke-width="1.2" />
<line x1="444.30" y1="533.85" x2="447.30" y2="533.85" stroke="#000" stroke-width="1.2" />
<line x1="444.30" y1="532.35" x2="447.30" y2="532.35" stroke="#000" stroke-width="1.2" />
<line x1="444.30" y1="531.03" x2="447.30" y2="531.03" stroke="#000" stroke-width="1.2" />
<line x1="443.60" y1="529.85" x2="447.30" y2="529.85" stroke="#000" stroke-width="1.6" />
<text transform="translate(437.90,534.95)" font-size="11.5" text-anchor="end" stroke="#000" stroke-width="0.4">10<tspan font-size="8.8" dy="-4.7">4</tspan></text>
<line x1="444.30" y1="522.07" x2="447.30" y2="522.07" stroke="#000" stroke-width="1.2" />
<line x1="444.30" y1="517.52" x2="447.30" y2="517.52" stroke="#000" stroke-width="1.2" />
<line x1="444.30" y1="514.29" x2="447.30" y2="514.29" stroke="#000" stroke-width="1.2" />
<line x1="444.30" y1="511.79" x2="447.30" y2="511.79" stroke="#000" stroke-width="1.2" />
<line x1="444.30" y1="509.74" x2="447.30" y2="509.74" stroke="#000" stroke-width="1.2" />
<line x1="444.30" y1="508.01" x2="447.30" y2="508.01" stroke="#000" stroke-width="1.2" />
<line x1="444.30" y1="506.52" x2="447.30" y2="506.52" stroke="#000" stroke-width="1.2" />
<line x1="444.30" y1="505.19" x2="447.30" y2="505.19" stroke="#000" stroke-width="1.2" />
<line x1="443.60" y1="504.01" x2="447.30" y2="504.01" stroke="#000" stroke-width="1.6" />
<text transform="translate(437.90,509.11)" font-size="11.5" text-anchor="end" stroke="#000" stroke-width="0.4">10<tspan font-size="8.8" dy="-4.7">5</tspan></text>
<line x1="444.30" y1="496.23" x2="447.30" y2="496.23" stroke="#000" stroke-width="1.2" />
<line x1="444.30" y1="491.68" x2="447.30" y2="491.68" stroke="#000" stroke-width="1.2" />
<line x1="444.30" y1="488.46" x2="447.30" y2="488.46" stroke="#000" stroke-width="1.2" />
<line x1="444.30" y1="485.95" x2="447.30" y2="485.95" stroke="#000" stroke-width="1.2" />
<line x1="444.30" y1="483.91" x2="447.30" y2="483.91" stroke="#000" stroke-width="1.2" />
<line x1="444.30" y1="482.18" x2="447.30" y2="482.18" stroke="#000" stroke-width="1.2" />
<line x1="444.30" y1="480.68" x2="447.30" y2="480.68" stroke="#000" stroke-width="1.2" />
<line x1="444.30" y1="479.36" x2="447.30" y2="479.36" stroke="#000" stroke-width="1.2" />
<line x1="443.60" y1="478.18" x2="447.30" y2="478.18" stroke="#000" stroke-width="1.6" />
<text transform="translate(437.90,483.28)" font-size="11.5" text-anchor="end" stroke="#000" stroke-width="0.4">10<tspan font-size="8.8" dy="-4.7">6</tspan></text>
<line x1="444.30" y1="470.40" x2="447.30" y2="470.40" stroke="#000" stroke-width="1.2" />
<line x1="444.30" y1="465.85" x2="447.30" y2="465.85" stroke="#000" stroke-width="1.2" />
<line x1="444.30" y1="462.62" x2="447.30" y2="462.62" stroke="#000" stroke-width="1.2" />
<line x1="444.30" y1="460.12" x2="447.30" y2="460.12" stroke="#000" stroke-width="1.2" />
<line x1="444.30" y1="458.07" x2="447.30" y2="458.07" stroke="#000" stroke-width="1.2" />
<line x1="444.30" y1="456.34" x2="447.30" y2="456.34" stroke="#000" stroke-width="1.2" />
<line x1="444.30" y1="454.84" x2="447.30" y2="454.84" stroke="#000" stroke-width="1.2" />
<line x1="444.30" y1="453.52" x2="447.30" y2="453.52" stroke="#000" stroke-width="1.2" />
<line x1="443.60" y1="452.34" x2="447.30" y2="452.34" stroke="#000" stroke-width="1.6" />
<text transform="translate(437.90,457.44)" font-size="11.5" text-anchor="end" stroke="#000" stroke-width="0.4">10<tspan font-size="8.8" dy="-4.7">7</tspan></text>
<line x1="444.30" y1="444.56" x2="447.30" y2="444.56" stroke="#000" stroke-width="1.2" />
<line x1="444.30" y1="440.01" x2="447.30" y2="440.01" stroke="#000" stroke-width="1.2" />
<line x1="444.30" y1="436.78" x2="447.30" y2="436.78" stroke="#000" stroke-width="1.2" />
<line x1="444.30" y1="434.28" x2="447.30" y2="434.28" stroke="#000" stroke-width="1.2" />
<line x1="444.30" y1="432.23" x2="447.30" y2="432.23" stroke="#000" stroke-width="1.2" />
<line x1="444.30" y1="430.50" x2="447.30" y2="430.50" stroke="#000" stroke-width="1.2" />
<line x1="444.30" y1="429.00" x2="447.30" y2="429.00" stroke="#000" stroke-width="1.2" />
<line x1="444.30" y1="427.68" x2="447.30" y2="427.68" stroke="#000" stroke-width="1.2" />
<line x1="443.60" y1="426.50" x2="447.30" y2="426.50" stroke="#000" stroke-width="1.6" />
<text transform="translate(437.90,431.60)" font-size="11.5" text-anchor="end" stroke="#000" stroke-width="0.4">10<tspan font-size="8.8" dy="-4.7">8</tspan></text>
<line x1="484.60" y1="633.20" x2="484.60" y2="637.70" stroke="#000" stroke-width="1.55" />
<line x1="558.05" y1="633.20" x2="558.05" y2="637.70" stroke="#000" stroke-width="1.55" />
<line x1="631.75" y1="633.20" x2="631.75" y2="637.70" stroke="#000" stroke-width="1.55" />
<rect x="477.35" y="483.05" width="5.7" height="5.7" fill="#fff" stroke="#000" stroke-width="1.5"/>
<rect x="485.85" y="484.75" width="5.7" height="5.7" fill="#fff" stroke="#000" stroke-width="1.5"/>
<rect x="481.55" y="496.85" width="5.7" height="5.7" fill="#fff" stroke="#000" stroke-width="1.5"/>
<circle cx="549.30" cy="615.40" r="2.7" fill="#4252ab" stroke="#171e60" stroke-width="1.15"/>
<circle cx="557.90" cy="615.40" r="2.7" fill="#4252ab" stroke="#171e60" stroke-width="1.15"/>
<circle cx="566.60" cy="615.40" r="2.7" fill="#4252ab" stroke="#171e60" stroke-width="1.15"/>
<circle cx="623.10" cy="615.40" r="2.85" fill="#fff" stroke="#323da0" stroke-width="1.3"/>
<circle cx="631.70" cy="615.40" r="2.85" fill="#fff" stroke="#323da0" stroke-width="1.3"/>
<circle cx="640.30" cy="615.40" r="2.85" fill="#fff" stroke="#323da0" stroke-width="1.3"/>
<path d="M483.7 457.4 V451.5 H632.7 V457.4" fill="none" stroke="#000" stroke-width="2.0" stroke-linejoin="miter" stroke-linecap="butt"/>
<path d="M483.7 472.5 V466.4 H557.6 V472.5" fill="none" stroke="#000" stroke-width="2.0" stroke-linejoin="miter" stroke-linecap="butt"/>
<text transform="translate(562.70,451.20) scale(1,1.0)" font-size="14" text-anchor="middle" fill="#000" stroke="#000" stroke-width="0.4" >*</text>
<text transform="translate(522.20,466.20) scale(1,1.0)" font-size="14" text-anchor="middle" fill="#000" stroke="#000" stroke-width="0.4" >*</text>
<text transform="translate(378.10,657.10) scale(1,1.0)" font-size="11.6" text-anchor="start" fill="#000" stroke="#000" stroke-width="0.4" >Adjuvant</text>
<text transform="translate(378.10,678.00) scale(1,1.0)" font-size="11.6" text-anchor="start" fill="#000" stroke="#000" stroke-width="0.4" >Vaccine</text>
<line x1="457.00" y1="661.40" x2="513.10" y2="661.40" stroke="#000" stroke-width="2.0" />
<line x1="531.40" y1="661.40" x2="659.90" y2="661.40" stroke="#000" stroke-width="2.0" />
<text transform="translate(484.20,654.40)" font-size="17" text-anchor="middle" stroke="#000" stroke-width="0.3">-</text>
<text transform="translate(557.90,654.30) scale(1,1.0)" font-size="11.6" text-anchor="middle" fill="#000" stroke="#000" stroke-width="0.4" >+</text>
<text transform="translate(631.70,653.10)" font-size="17" text-anchor="middle" stroke="#000" stroke-width="0.3">-</text>
<text transform="translate(484.20,678.00) scale(1,1.0)" font-size="11.6" text-anchor="middle" fill="#000" stroke="#000" stroke-width="0.4" >naive</text>
<text transform="translate(595.70,678.00) scale(1,1.0)" font-size="11.6" text-anchor="middle" fill="#36439b" stroke="#36439b" stroke-width="0.4" >LAIV / IIV</text>
</svg>
</body>
</html>
